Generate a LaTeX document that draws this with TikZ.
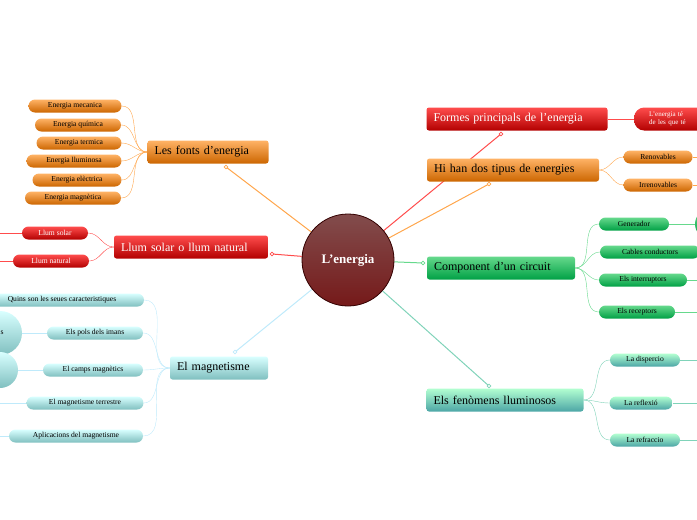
\documentclass[tikz,border=0pt]{standalone}
\usepackage{fontspec}
\setmainfont{Liberation Serif}
\pgfdeclarelayer{bg}
\pgfsetlayers{bg,main}
\begin{document}
\begin{tikzpicture}[x=1pt,y=-1pt,
 mainbox/.style={rounded corners=2.5pt,minimum height=23pt,inner xsep=7pt,font=\fontsize{12}{13}\selectfont,anchor=center,align=left},
 leaf/.style={rounded corners=6.5pt,minimum height=13pt,inner xsep=6pt,inner ysep=1pt,font=\fontsize{7.6}{8}\selectfont,anchor=center},
 orn/.style={top color=orange!60!white,bottom color=orange!80!black,draw=none},
 ornl/.style={color=orange!70},
 redb/.style={top color=red!70!white,bottom color=red!70!black,draw=none},
 redl/.style={color=red!70},
 tealb/.style={top color=cyan!15!white,bottom color=teal!50!white,draw=none},
 teall/.style={color=cyan!25},
 grnb/.style={top color=green!50!teal!60,bottom color=green!40!teal!90!black,draw=none},
 grnl/.style={color=green!50!teal!60},
 tqb/.style={top color=cyan!40!green!30,bottom color=teal!70,draw=none},
 tql/.style={color=cyan!40!green!50},
 dot/.style={circle,draw,fill=white,inner sep=1.3pt,line width=0.8pt},
 conn/.style={line width=1pt}]
\useasboundingbox (0,0) rectangle (697,520);
\clip (0,0) rectangle (697,520);
% center
\node[circle,minimum size=92pt,top color=red!30!black!70,bottom color=red!40!black!90,draw=red!20!black,line width=0.8pt,text=white,font=\bfseries\fontsize{13}{14}\selectfont] (c) at (348,260) {L’energia};
% main nodes
\node[mainbox,orn,text width=107pt] (f) at (208,152) {Les fonts d’energia};
\node[mainbox,redb,text=white,text width=140pt] (l) at (191,247) {Llum solar o llum natural};
\node[mainbox,tealb,text width=84pt] (m) at (219,368) {El magnetisme};
\node[mainbox,redb,text=white,text width=167pt] (fp) at (517,119) {Formes principals de l’energia};
\node[mainbox,orn,text width=158pt] (h) at (513,170) {Hi han dos tipus de energies};
\node[mainbox,grnb,text width=134pt] (cc) at (501,268) {Component d’un circuit};
\node[mainbox,tqb,text width=143pt] (fe) at (505,400) {Els fenòmens lluminosos};
% main connectors
\begin{pgfonlayer}{bg}
\draw[conn,ornl] (c) -- (226,167) node[dot,draw=orange!70]{};
\draw[conn,redl] (c) -- (272,254) node[dot,draw=red!70]{};
\draw[conn,teall] (c) -- (235,352) node[dot,draw=cyan!25]{};
\draw[conn,redl] (c) -- (501,134) node[dot,draw=red!70]{};
\draw[conn,ornl] (c) -- (489,184) node[dot,draw=orange!70]{};
\draw[conn,grnl] (c) -- (423,263) node[dot,draw=green!50!teal!60]{};
\draw[conn,tql] (c) -- (489,386) node[dot,draw=cyan!40!green!50]{};
\end{pgfonlayer}
% fonts leaves
\foreach \n/\t/\x/\y/\w in {f1/Energia mecanica/75/106/93,f2/Energia química/78/125/86,f3/Energia termica/79/143/85,f4/Energia lluminosa/74/161/95,f5/Energia elèctrica/77/180/89,f6/Energia magnètica/73/198/96}{
 \node[leaf,orn,minimum width=\w pt] (\n) at (\x,\y) {\t};
 \draw[ornl] (f.west) to[out=180,in=0] (\n.east);}
% llum leaves
\foreach \n/\t/\x/\y/\w in {l1/Llum solar/55/233/66,l2/Llum natural/51/261/76}{
 \node[leaf,redb,text=white,minimum width=\w pt] (\n) at (\x,\y) {\t};
 \draw[redl] (l.west) to[out=180,in=0] (\n.east);
 \coordinate (\n e) at (0,\y);
 \draw[redl] (\n.west) -- (\n e);}
% magnetisme
\node[circle,tealb,minimum size=44pt] (mc1) at (0,333) {};
\node[circle,tealb,minimum size=36pt] (mc2) at (0,370) {};
\node[font=\fontsize{7.6}{8}\selectfont] at (2,333) {s};
\foreach \n/\t/\x/\y/\w in {m1/Quins son les seues caracteristiques/62/300/164,m2/Els pols dels imans/95/333/96,m3/El camps magnètics/93/370/100,m4/El magnetisme terrestre/85/403/117,m5/Aplicacions del magnetisme/76/436/134}{
 \node[leaf,tealb,minimum width=\w pt] (\n) at (\x,\y) {\t};
 \draw[teall] (m.west) to[out=180,in=0] (\n.east);}
\draw[teall] (m2.west) -- (mc1);
\draw[teall] (m3.west) -- (mc2);
\coordinate (m4e) at (0,403); \coordinate (m5e) at (0,436);
\draw[teall] (m4.west) -- (m4e); \draw[teall] (m5.west) -- (m5e);
% formes
\node[leaf,redb,text=white,minimum height=23pt,rounded corners=10pt,inner xsep=15pt,text width=100pt,align=left,font=\fontsize{7}{7.5}\selectfont,anchor=west] (fp1) at (634,119) {L’energia té\\de les que té};
\draw[redl,line width=1pt] (fp.east) -- (fp1.west);
% hi han
\foreach \n/\t/\y in {h1/Renovables/157,h2/Irrenovables/185}{
 \node[leaf,orn,minimum width=69pt] (\n) at (658,\y) {\t};
 \draw[ornl] (h.east) to[out=0,in=180] (\n.west);
 \coordinate (\n e) at (697,\y); \draw[ornl] (\n.east) -- (\n e);}
% circuit
\node[circle,grnb,minimum size=30pt] (gc) at (710,224) {};
\foreach \n/\t/\x/\y/\w in {c1/Generador/634/224/70,c2/Cables conductors/650/252/100,c3/Els interruptors/643/280/88,c4/Els receptors/637/312/76}{
 \node[leaf,grnb,minimum width=\w pt] (\n) at (\x,\y) {\t};
 \draw[grnl] (cc.east) to[out=0,in=180] (\n.west);}
\draw[grnl] (c1.east) -- (gc);
\coordinate (c3e) at (697,280); \coordinate (c4e) at (697,312);
\draw[grnl] (c3.east) -- (c3e); \draw[grnl] (c4.east) -- (c4e);
% fenomens
\foreach \n/\t/\x/\y/\w in {e1/La dispercio/645/360/70,e2/La reflexió/641/403/63,e3/La refraccio/645/440/70}{
 \node[leaf,tqb,minimum width=\w pt] (\n) at (\x,\y) {\t};
 \draw[tql] (fe.east) to[out=0,in=180] (\n.west);
 \coordinate (\n e) at (697,\y); \draw[tql] (\n.east) -- (\n e);}
\end{tikzpicture}
\end{document}
